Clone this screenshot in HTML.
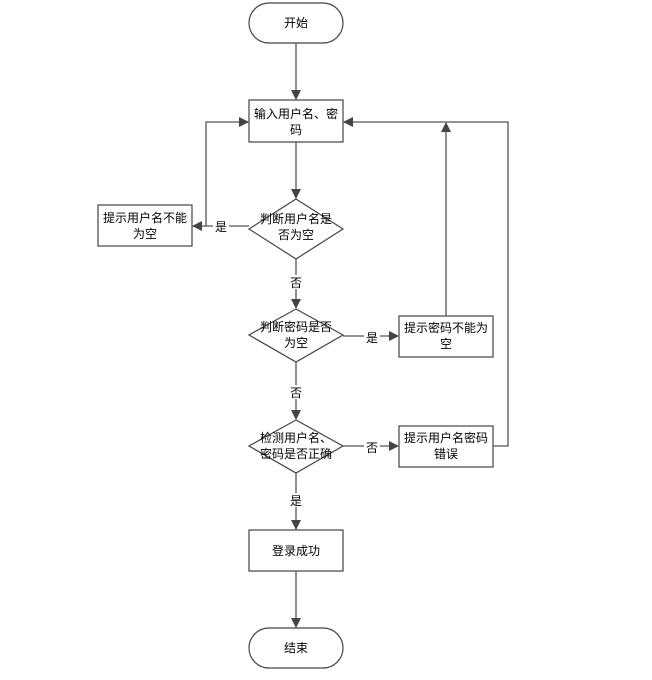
<!DOCTYPE html>
<html><head><meta charset="utf-8"><style>
html,body{margin:0;padding:0;background:#fff;}
svg text{font-family:"Liberation Sans","Noto Sans CJK SC",sans-serif;font-size:12px;fill:#000;}
</style></head><body>
<svg width="652" height="675" viewBox="0 0 652 675" xmlns="http://www.w3.org/2000/svg">
<defs><marker id="a" markerWidth="10" markerHeight="10" refX="9" refY="5" orient="auto" markerUnits="userSpaceOnUse"><path d="M0,0 L10,5 L0,10 Z" fill="#444"/></marker></defs>
<g fill="#fff" stroke="#444" stroke-width="1.2">
<rect x="249" y="3" width="94" height="40" rx="20"/>
<rect x="249" y="100" width="94" height="42"/>
<polygon points="296,199 343,229 296,259 249,229"/>
<rect x="98" y="205" width="94" height="41"/>
<polygon points="296,309 343,335 296,362 249,335"/>
<rect x="399" y="316" width="94" height="41"/>
<polygon points="296,420 343,446 296,473 249,446"/>
<rect x="399" y="426" width="94" height="41"/>
<rect x="249" y="530" width="94" height="41"/>
<rect x="249" y="628" width="94" height="40" rx="20"/>
</g>
<g fill="none" stroke="#555" stroke-width="1.3">
<line x1="296" y1="43" x2="296" y2="99" marker-end="url(#a)"/>
<line x1="296" y1="142" x2="296" y2="198" marker-end="url(#a)"/>
<line x1="249" y1="226" x2="193" y2="226" marker-end="url(#a)"/>
<polyline points="206,226 206,122 248,122" marker-end="url(#a)"/>
<line x1="296" y1="259" x2="296" y2="308" marker-end="url(#a)"/>
<line x1="343" y1="336" x2="398" y2="336" marker-end="url(#a)"/>
<line x1="446" y1="316" x2="446" y2="123" marker-end="url(#a)"/>
<line x1="296" y1="362" x2="296" y2="419" marker-end="url(#a)"/>
<line x1="343" y1="446" x2="398" y2="446" marker-end="url(#a)"/>
<polyline points="493,446 508,446 508,122 344,122" marker-end="url(#a)"/>
<line x1="296" y1="473" x2="296" y2="529" marker-end="url(#a)"/>
<line x1="296" y1="571" x2="296" y2="627" marker-end="url(#a)"/>
</g>
<g text-anchor="middle">
<text x="296" y="27">开始</text>
<text x="296" y="118">输入用户名、密</text><text x="296" y="134">码</text>
<text x="296" y="223">判断用户名是</text><text x="296" y="239">否为空</text>
<text x="145" y="222">提示用户名不能</text><text x="145" y="238">为空</text>
<text x="296" y="331">判断密码是否</text><text x="296" y="347">为空</text>
<text x="446" y="332">提示密码不能为</text><text x="446" y="348">空</text>
<text x="296" y="442">检测用户名、</text><text x="296" y="458">密码是否正确</text>
<text x="446" y="442">提示用户名密码</text><text x="446" y="458">错误</text>
<text x="296" y="555">登录成功</text>
<text x="296" y="652">结束</text>
</g>
<g text-anchor="middle">
<rect x="213" y="219" width="16" height="14" fill="#fff"/><text x="221" y="231">是</text>
<rect x="288" y="275" width="16" height="14" fill="#fff"/><text x="296" y="287">否</text>
<rect x="364" y="330" width="16" height="14" fill="#fff"/><text x="372" y="342">是</text>
<rect x="288" y="385" width="16" height="14" fill="#fff"/><text x="296" y="397">否</text>
<rect x="364" y="440" width="16" height="14" fill="#fff"/><text x="372" y="452">否</text>
<rect x="288" y="493" width="16" height="14" fill="#fff"/><text x="296" y="505">是</text>
</g>
</svg>
</body></html>
